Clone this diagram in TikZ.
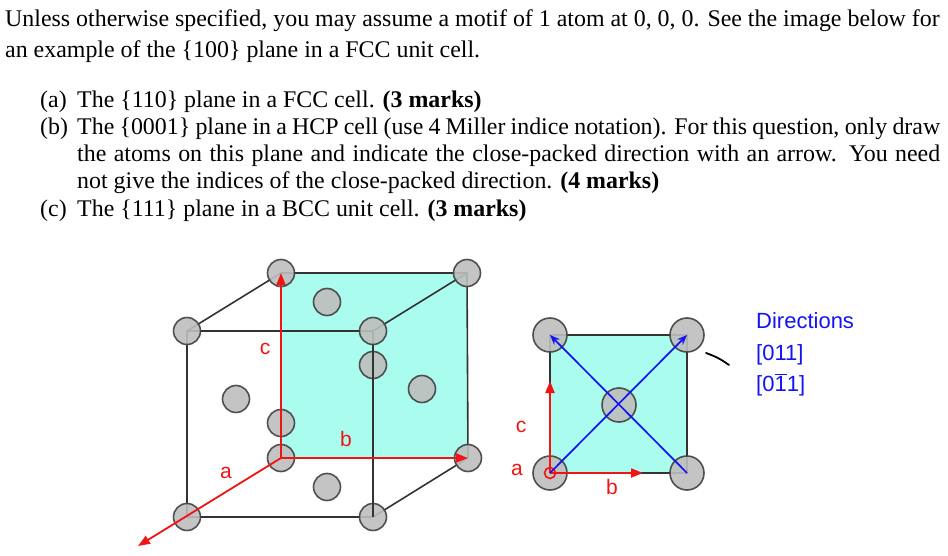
\documentclass[tikz,border=0pt]{standalone}
\usepackage{fontspec}
\setmainfont{Liberation Serif}
\setsansfont{Liberation Sans}
\usetikzlibrary{arrows.meta}
\definecolor{cyanf}{RGB}{170,252,238}
\definecolor{atomg}{RGB}{190,190,190}
\definecolor{rd}{RGB}{240,20,20}
\definecolor{bl}{RGB}{20,20,240}
\begin{document}
\begin{tikzpicture}[x=1pt,y=-1pt,
  txt/.style={anchor=base west,inner sep=0,font=\fontsize{23.9}{28}\selectfont},
  atom/.style={circle,draw=black!75,line width=1.6pt,fill=atomg,opacity=0.9,minimum size=27pt,inner sep=0},
  batom/.style={circle,draw=black!75,line width=1.6pt,fill=atomg,opacity=0.9,minimum size=34pt,inner sep=0},
  edge/.style={draw=black!80,line width=1.6pt},
  rarr/.style={draw=rd,line width=1.8pt,-{Triangle[length=12pt,width=9pt]}},
  barr/.style={draw=bl,line width=1.7pt,-{Stealth[length=10pt,width=8pt]}},
  rlab/.style={text=rd,font=\sffamily\fontsize{21}{24}\selectfont,inner sep=0},
  blab/.style={text=bl,font=\sffamily\fontsize{22}{26}\selectfont,inner sep=0,anchor=base west}]
\useasboundingbox (0,0) rectangle (948,556);
\node[txt] (l1) at (5,27) {Unless otherwise specified, you may assume a motif of 1 atom at 0, 0, 0. See the image below for};
\node[txt] (l2) at (5,58) {an example of the \{100\} plane in a FCC unit cell.};
\node[txt] (ma) at (40,108) {(a)};
\node[txt] (la) at (77,108) {The \{110\} plane in a FCC cell. \textbf{(3 marks)}};
\node[txt] (mb) at (40,135) {(b)};
\node[txt] (lb) at (77,135) {\hbox to 863pt{The \{0001\} plane in a HCP cell (use 4 Miller indice notation). For this question, only draw}};
\node[txt] (lb2) at (77,162) {\hbox to 863pt{the atoms on this plane and indicate the close-packed direction with an arrow. You need}};
\node[txt] (lb3) at (77,189) {not give the indices of the close-packed direction. \textbf{(4 marks)}};
\node[txt] (mc) at (40,217) {(c)};
\node[txt] (lc) at (77,217) {The \{111\} plane in a BCC unit cell. \textbf{(3 marks)}};
% cube
\coordinate (B1) at (281,273); \coordinate (B2) at (467,273);
\coordinate (B3) at (468,458); \coordinate (B4) at (281,458);
\coordinate (F1) at (187,331); \coordinate (F2) at (373,331);
\coordinate (F3) at (373,517); \coordinate (F4) at (187,517);
\fill[cyanf] (B1) rectangle (B3);
\draw[edge] (B1) -- (B2) -- (B3);
\draw[edge] (F1) -- (F2) -- (F3) -- (F4) -- cycle;
\draw[edge] (F1) -- (B1) (F2) -- (B2) (F3) -- (B3);
\foreach \n/\p in {c1/B1,c2/B2,c3/B3,c4/B4,c5/F1,c6/F2,c7/F3,c8/F4}
  \node[atom] (\n) at (\p) {};
\node[atom] (f1) at (327,302) {};
\node[atom] (f2) at (236,399) {};
\node[atom] (f3) at (422,389) {};
\node[atom] (f4) at (327,487) {};
\node[atom] (f5) at (281,423) {};
\node[atom] (f6) at (373,365) {};
\draw[edge] (c6.south) -- (F3);
\coordinate (aend) at (138,546);
\draw[rarr] (B4) -- (B1);
\draw[rarr] (B4) -- (B3);
\draw[rarr] (B4) -- (aend);
\node[rlab] (lc1) at (265,349) {c};
\node[rlab] (lb1) at (346,439) {b};
\node[rlab] (la1) at (226,473) {a};
% square
\coordinate (S1) at (550,335); \coordinate (S2) at (687,335);
\coordinate (S3) at (687,473); \coordinate (S4) at (550,473);
\filldraw[fill=cyanf,edge] (S1) rectangle (S3);
\node[batom] (s1) at (S1) {}; \node[batom] (s2) at (S2) {};
\node[batom] (s3) at (S3) {}; \node[batom] (s4) at (S4) {};
\node[batom] (s5) at (619,405) {};
\coordinate (cup) at (550,381); \coordinate (bright) at (643,473);
\draw[rarr] (S4) -- (cup);
\draw[rarr] (S4) -- (bright);
\node[circle,draw=rd,line width=1.6pt,minimum size=11pt,inner sep=0] (ao) at (S4) {};
\node[rlab] (lc2) at (521,427) {c};
\node[rlab] (la2) at (517,470) {a};
\node[rlab] (lb2b) at (612,487) {b};
\draw[barr] (S4) -- (S2);
\draw[barr] (S3) -- (S1);
\coordinate (t1) at (706,353); \coordinate (t2) at (729,365);
\draw[line width=1.8pt,line cap=round] (t1) to[bend left=8] (t2);
\node[blab] (d1) at (756,328) {Directions};
\node[blab] (d2) at (756,360) {[011]};
\node[blab] (d3) at (756,391) {[0$\overline{\hbox{1}}$1]};
\end{tikzpicture}
\end{document}
